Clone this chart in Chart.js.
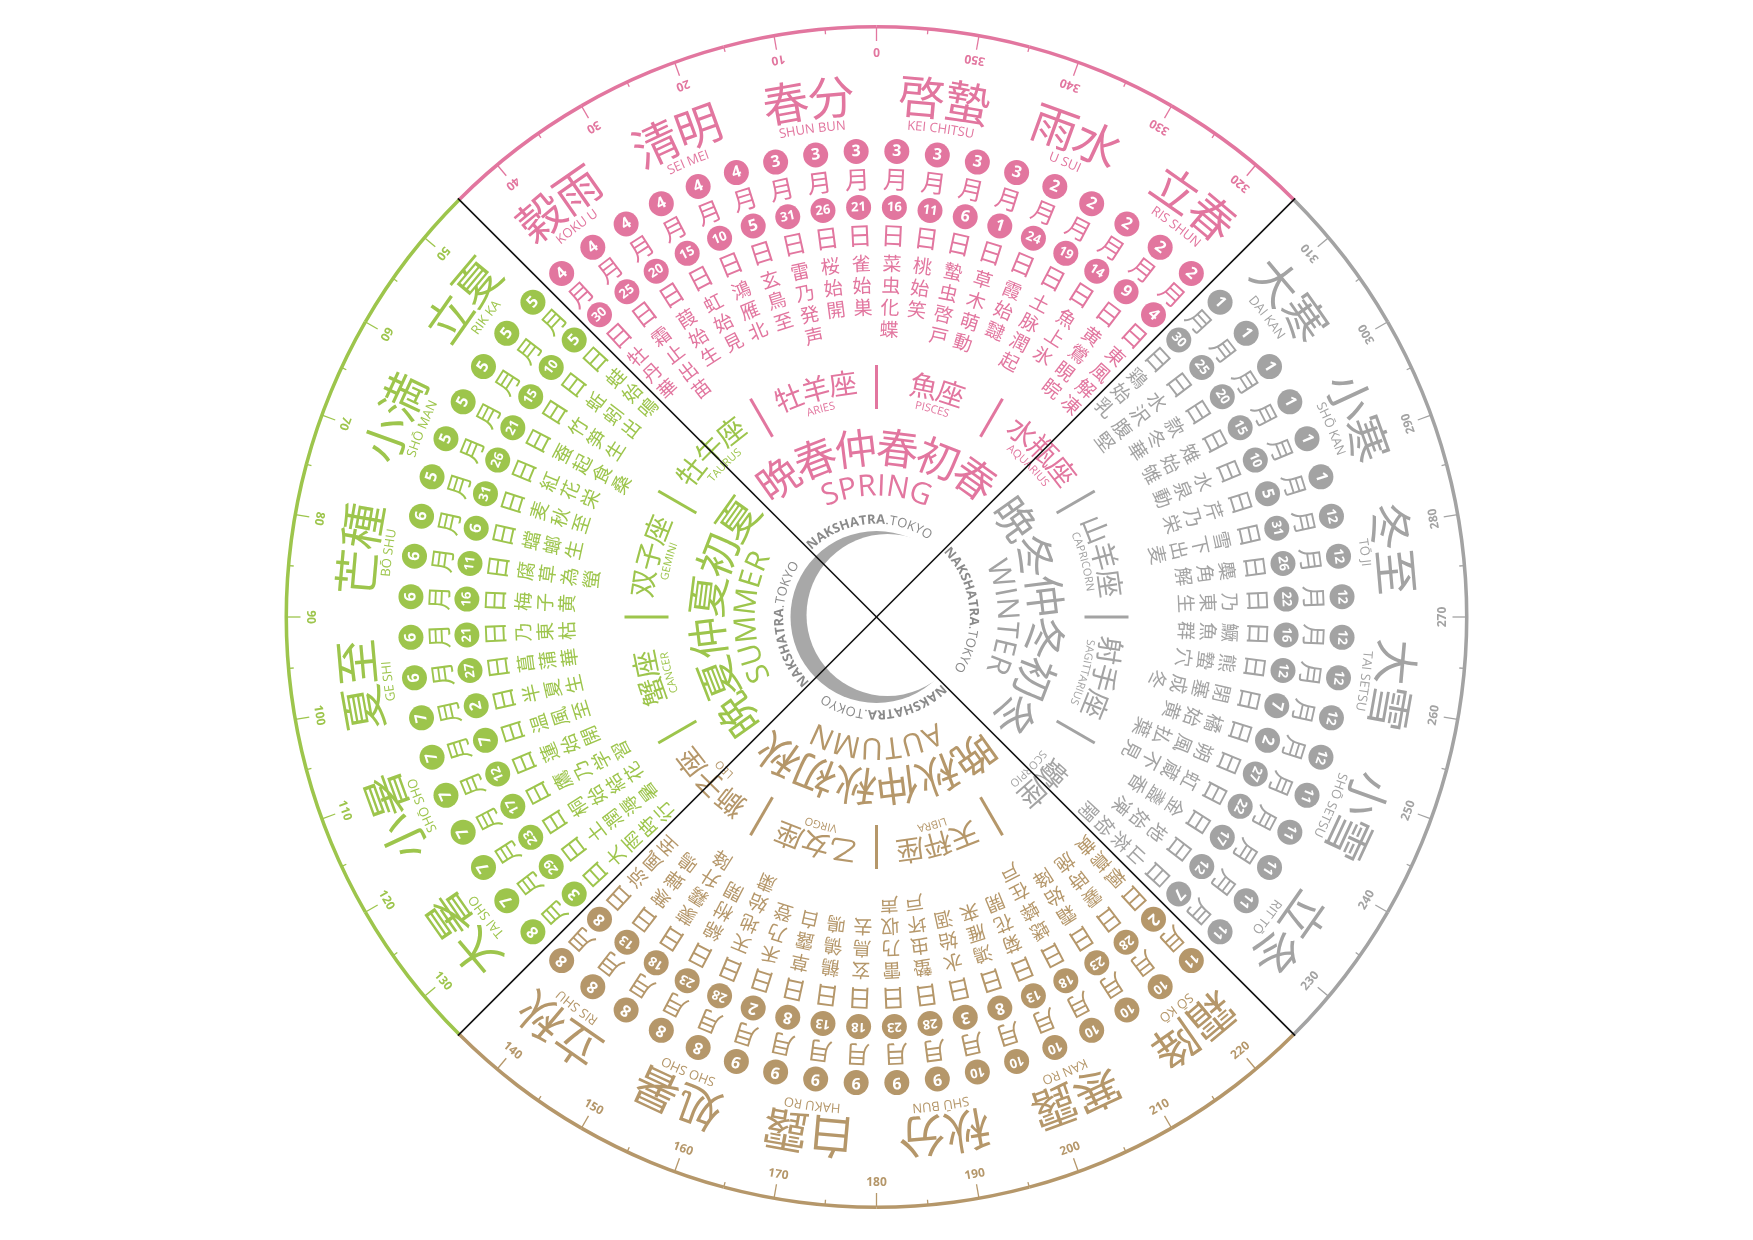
<!DOCTYPE html>
<html>
<head>
<meta charset="utf-8">
<script src="https://cdn.jsdelivr.net/npm/chart.js@4.4.1/dist/chart.umd.min.js"></script>
<style>
  html, body { margin: 0; padding: 0; background: #fff; }
  canvas { display: block; }
</style>
</head>
<body>
<canvas id="wheel" width="1753" height="1240"></canvas>
<script>
// 二十四節気 (ecliptic longitude order, starting at 立春)
const TERM_NAMES = ['立春','雨水','啓蟄','春分','清明','穀雨','立夏','小満','芒種','夏至','小暑','大暑',
  '立秋','処暑','白露','秋分','寒露','霜降','立冬','小雪','大雪','冬至','小寒','大寒'];
const TERM_ROMAJI = ['RIS SHUN','U SUI','KEI CHITSU','SHUN BUN','SEI MEI','KOKU U','RIK KA','SHŌ MAN','BŌ SHU','GE SHI','SHŌ SHO','TAI SHO',
  'RIS SHU','SHO SHO','HAKU RO','SHŪ BUN','KAN RO','SŌ KŌ','RIT TŌ','SHŌ SETSU','TAI SETSU','TŌ JI','SHŌ KAN','DAI KAN'];
const TERM_LON = [315,330,345,0,15,30,45,60,75,90,105,120,135,150,165,180,195,210,225,240,255,270,285,300];

// 七十二候 (three per term, same order)
const KO_NAMES = [
  '東風解凍','黄鶯睍睆','魚上氷', '土脉潤起','霞始靆','草木萌動', '蟄虫啓戸','桃始笑','菜虫化蝶',
  '雀始巣','桜始開','雷乃発声', '玄鳥至','鴻雁北','虹始見', '葭始生','霜止出苗','牡丹華',
  '蛙始鳴','蚯蚓出','竹笋生', '蚕起食桑','紅花栄','麦秋至', '蟷螂生','腐草為螢','梅子黄',
  '乃東枯','菖蒲華','半夏生', '温風至','蓮始開','鷹乃学習', '桐始結花','土潤溽暑','大雨時行',
  '涼風至','寒蝉鳴','蒙霧升降', '綿柎開','天地始粛','禾乃登', '草露白','鶺鴒鳴','玄鳥去',
  '雷乃収声','蟄虫坏戸','水始涸', '鴻雁来','菊花開','蟋蟀在戸', '霜始降','霎時施','楓蔦黄',
  '山茶始開','地始凍','金盞香', '虹蔵不見','朔風払葉','橘始黄', '閉塞成冬','熊蟄穴','鱖魚群',
  '乃東生','麋角解','雪下出麦', '芹乃栄','水泉動','雉始雊', '款冬華','水沢腹堅','鶏始乳'];
const KO_MONTH = [2,2,2, 2,2,3, 3,3,3, 3,3,3, 4,4,4, 4,4,4, 5,5,5, 5,5,5, 6,6,6, 6,6,7, 7,7,7, 7,7,8,
  8,8,8, 8,8,9, 9,9,9, 9,9,10, 10,10,10, 10,10,11, 11,11,11, 11,11,12, 12,12,12, 12,12,12, 1,1,1, 1,1,1];
const KO_DAY = [4,9,14, 19,24,1, 6,11,16, 21,26,31, 5,10,15, 20,25,30, 5,10,15, 21,26,31, 6,11,16, 21,27,2, 7,12,17, 23,29,3,
  8,13,18, 23,28,2, 8,13,18, 23,28,3, 8,13,18, 23,28,2, 7,12,17, 22,27,2, 7,12,16, 22,26,31, 5,10,15, 20,25,30];

// 星座
const ZODIAC_JP = ['牡羊座','牡牛座','双子座','蟹座','獅子座','乙女座','天秤座','蠍座','射手座','山羊座','水瓶座','魚座'];
const ZODIAC_EN = ['ARIES','TAURUS','GEMINI','CANCER','LEO','VIRGO','LIBRA','SCORPIO','SAGITTARIUS','CAPRICORN','AQUARIUS','PISCES'];
const ZODIAC_LON = [15,45,75,105,135,165,195,225,255,285,315,345];

// 季節
const SEASON_JP = ['晩春仲春初春','晩夏仲夏初夏','晩秋仲秋初秋','晩冬仲冬初冬'];
const SEASON_EN = ['SPRING','SUMMER','AUTUMN','WINTER'];
const SEASON_LON = [0,90,180,270];
const SEASON_COLORS = ['#e2769f','#9dc54c','#b5976a','#a3a3a3'];

const JP = '"Noto Sans CJK JP", "Noto Sans", sans-serif';
const LAT = '"Open Sans", "Noto Sans", sans-serif';

function seasonOf(lam) {
  lam = ((lam % 360) + 360) % 360;
  if (lam >= 315 || lam < 45) return 0;
  if (lam < 135) return 1;
  if (lam < 225) return 2;
  return 3;
}

// doughnut order: clockwise from the top (λ=360 going down)
const ringOrder = [];
for (let k = 0; k < 24; k++) ringOrder.push((2 - k + 24) % 24);

const wheelPlugin = {
  id: 'wheel',
  afterDraw(chart) {
    const arc0 = chart.getDatasetMeta(0).data[0];
    const cx = arc0.x, cy = arc0.y, R = arc0.outerRadius;
    const f = R / 592;
    const ctx = chart.ctx;

    function ang(lam) { return (-90 - lam) * Math.PI / 180; }
    function up(text, lam, r, font, color, flip) {
      const t = ang(lam);
      ctx.save();
      ctx.translate(cx + r * Math.cos(t), cy + r * Math.sin(t));
      ctx.rotate(t + Math.PI / 2 + (flip ? Math.PI : 0));
      ctx.font = font; ctx.fillStyle = color;
      ctx.textAlign = 'center'; ctx.textBaseline = 'middle';
      ctx.fillText(text, 0, 0);
      ctx.restore();
    }
    // text along the arc, reading clockwise, glyph tops outward
    function arcText(parts, lamC, r, color, gap) {
      gap = gap || 0;
      const chars = [];
      let total = 0;
      parts.forEach(([s, font]) => {
        ctx.font = font;
        for (const ch of s) { const w = ctx.measureText(ch).width + gap; chars.push([ch, font, w]); total += w; }
      });
      let acc = 0;
      const start = lamC + (total / 2) / r * 180 / Math.PI;
      chars.forEach(([ch, font, w]) => {
        up(ch, start - (acc + w / 2) / r * 180 / Math.PI, r, font, color);
        acc += w;
      });
    }
    function radial(lam, r1, r2, color, width) {
      const t = ang(lam);
      ctx.save();
      ctx.strokeStyle = color; ctx.lineWidth = width;
      ctx.beginPath();
      ctx.moveTo(cx + r1 * Math.cos(t), cy + r1 * Math.sin(t));
      ctx.lineTo(cx + r2 * Math.cos(t), cy + r2 * Math.sin(t));
      ctx.stroke();
      ctx.restore();
    }
    function badge(num, lam, r, color) {
      const t = ang(lam);
      ctx.save();
      ctx.fillStyle = color;
      ctx.beginPath();
      ctx.arc(cx + r * Math.cos(t), cy + r * Math.sin(t), 12.5 * f, 0, Math.PI * 2);
      ctx.fill();
      ctx.restore();
      const s = String(num);
      up(s, lam, r, `bold ${(s.length > 1 ? 13 : 16) * f}px ${LAT}`, '#fff');
    }

    // degree scale
    for (let d = 0; d < 360; d += 5) {
      const col = SEASON_COLORS[seasonOf(d)];
      radial(d, R - 2, R - (d % 10 === 0 ? 16 : 7) * f, col, 1.3);
      if (d % 10 === 0) up(String(d), d, R - 26 * f, `bold ${12 * f}px ${LAT}`, col, true);
    }

    // terms and kō
    TERM_NAMES.forEach((name, i) => {
      const lam = TERM_LON[i] + 7.5;
      const col = SEASON_COLORS[seasonOf(TERM_LON[i] + 1)];
      arcText([[name, `${46 * f}px ${JP}`]], lam, 522 * f, col);
      arcText([[TERM_ROMAJI[i], `${13 * f}px ${LAT}`]], lam, 492 * f, col);
      for (let k = 0; k < 3; k++) {
        const j = i * 3 + k;
        const kl = TERM_LON[i] + 2.5 + 5 * k;
        badge(KO_MONTH[j], kl, 466 * f, col);
        up('月', kl, 438 * f, `${25 * f}px ${JP}`, col);
        badge(KO_DAY[j], kl, 410 * f, col);
        up('日', kl, 382 * f, `${25 * f}px ${JP}`, col);
        let r = 354 * f;
        for (const ch of KO_NAMES[j]) { up(ch, kl, r, `${19 * f}px ${JP}`, col); r -= 22 * f; }
      }
    });

    // zodiac
    ZODIAC_JP.forEach((z, i) => {
      const col = SEASON_COLORS[seasonOf(ZODIAC_LON[i])];
      arcText([[z, `${28 * f}px ${JP}`]], ZODIAC_LON[i], 236 * f, col);
      arcText([[ZODIAC_EN[i], `${11 * f}px ${LAT}`]], ZODIAC_LON[i], 215 * f, col);
      radial(ZODIAC_LON[i] - 15, 208 * f, 252 * f, SEASON_COLORS[seasonOf(ZODIAC_LON[i] - 15)], 3);
    });

    // seasons
    SEASON_JP.forEach((s, i) => {
      arcText([[s, `${42 * f}px ${JP}`]], SEASON_LON[i], 170 * f, SEASON_COLORS[i]);
      arcText([[SEASON_EN[i], `${30 * f}px ${LAT}`]], SEASON_LON[i], 130 * f, SEASON_COLORS[i], 1);
    });

    // centre crescent
    ctx.save();
    ctx.fillStyle = '#a8a8a8';
    ctx.beginPath(); ctx.arc(cx, cy, 86 * f, 0, Math.PI * 2); ctx.fill();
    ctx.fillStyle = '#fff';
    ctx.beginPath(); ctx.arc(cx + 11 * f, cy - 2 * f, 81 * f, 0, Math.PI * 2); ctx.fill();
    ctx.restore();
    [5, 95, 185, 275].forEach(l => {
      arcText([['NAKSHATRA', `bold ${13 * f}px ${LAT}`], ['.TOKYO', `${13 * f}px ${LAT}`]], l, 97 * f, '#8a8a8a', 0.5);
    });

    // quadrant dividers
    [45, 135, 225, 315].forEach(l => radial(l, 0, R, '#111', 1.6));
  }
};

new Chart(document.getElementById('wheel'), {
  type: 'doughnut',
  data: {
    labels: ringOrder.map(i => TERM_NAMES[i]),
    datasets: [{
      data: ringOrder.map(() => 15),
      backgroundColor: ringOrder.map(i => SEASON_COLORS[seasonOf(TERM_LON[i] + 1)]),
      borderWidth: 0
    }]
  },
  options: {
    responsive: false,
    animation: false,
    cutout: '99.4%',
    rotation: 0,
    layout: { padding: { top: 25, bottom: 31, left: 0, right: 0 } },
    plugins: { legend: { display: false }, tooltip: { enabled: false } }
  },
  plugins: [wheelPlugin]
});
</script>
</body>
</html>
